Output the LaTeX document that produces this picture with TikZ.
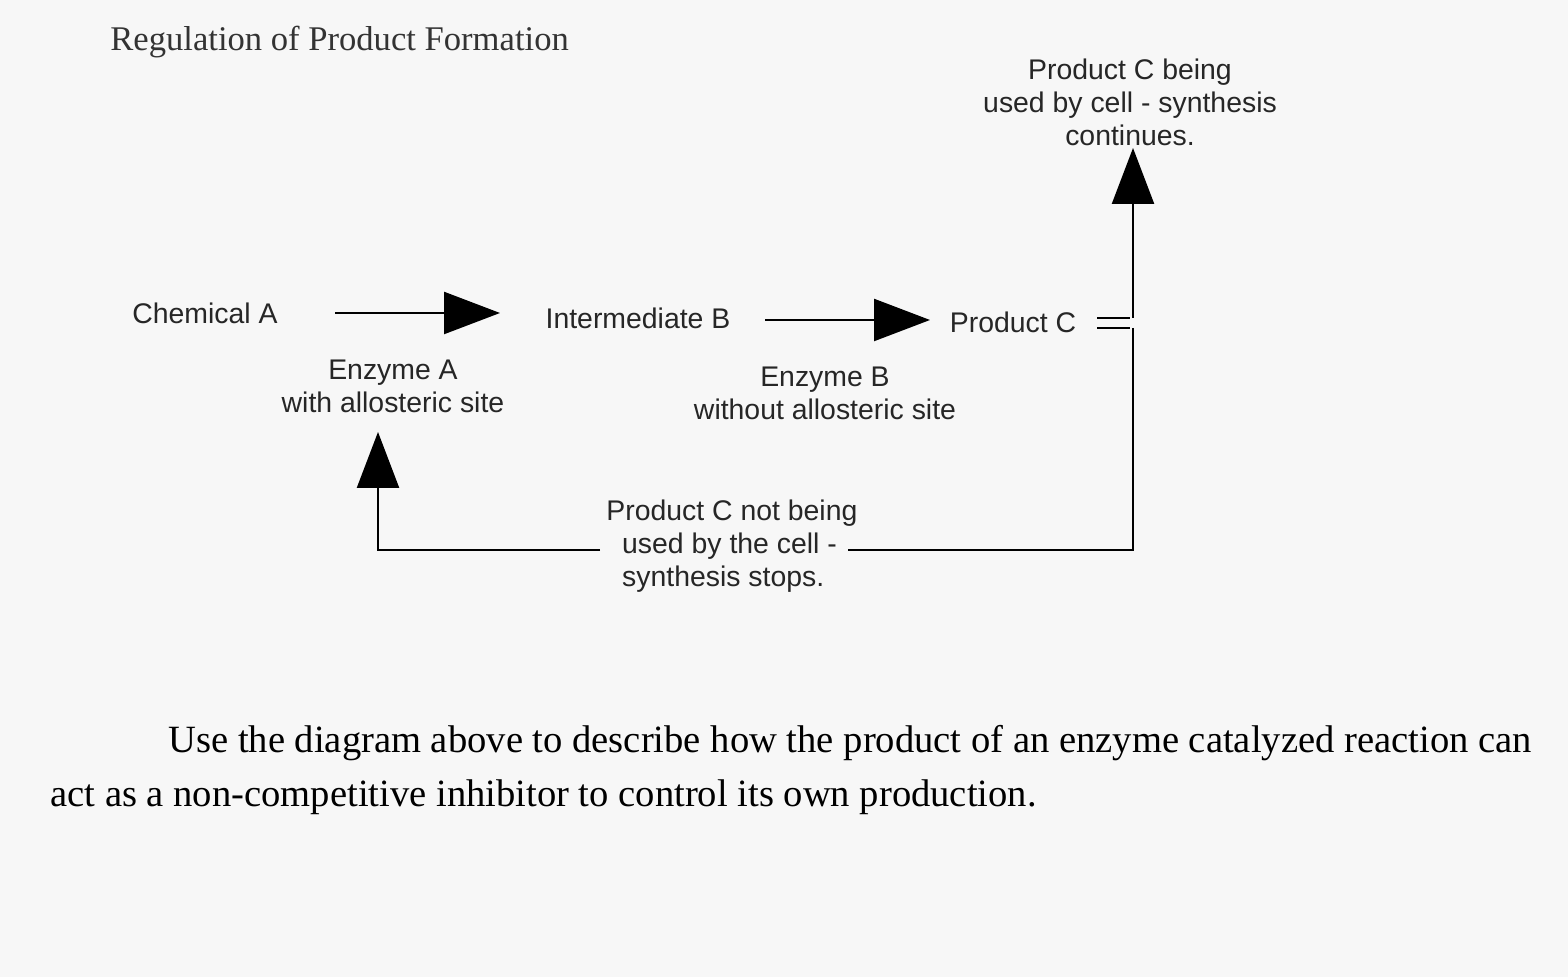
\documentclass[tikz,border=0pt]{standalone}
\usepackage{fontspec}
\setmainfont{Liberation Serif}
\newfontfamily\diag{Liberation Sans}
\usetikzlibrary{arrows.meta}
\begin{document}
\begin{tikzpicture}[x=0.5pt,y=-0.5pt,
  lbl/.style={font=\diag\fontsize{14.2}{16.5}\selectfont,text=black!85,inner sep=0pt},
  flow/.style={line width=1.2pt,-{Triangle[length=28pt,width=21pt]}},
  ln/.style={line width=1.2pt}]
\fill[gray!6] (0,0) rectangle (1568,977);
\useasboundingbox (0,0) rectangle (1568,977);
\node[anchor=west,font=\fontsize{17.3}{20}\selectfont,text=black!80,inner sep=0pt] (title) at (110,42) {Regulation of Product Formation};
\node[lbl] (ca) at (205,313) {Chemical A};
\node[lbl] (ib) at (638,318) {Intermediate B};
\node[lbl] (pc) at (1013,322) {Product C};
\node[lbl,align=center] (ea) at (393,386) {Enzyme A\\with allosteric site};
\node[lbl,align=center] (eb) at (825,393) {Enzyme B\\without allosteric site};
\node[lbl,align=center] (used) at (1130,102) {Product C being\\used by cell - synthesis\\continues.};
\node[lbl,align=left,anchor=west] (notused) at (606,546) {Product C not being\\\ \ used by the cell -\\\ \ synthesis stops.};
\coordinate (a1) at (335,313); \coordinate (a2) at (500,313);
\coordinate (b1) at (765,320); \coordinate (b2) at (930,320);
\draw[flow] (a1) -- (a2);
\draw[flow] (b1) -- (b2);
\coordinate (c1) at (1133,318); \coordinate (c2) at (1133,148);
\draw[flow] (c1) -- (c2);
\draw[ln] (1097,318) -- (1130,318);
\draw[ln] (1097,328) -- (1130,328);
\coordinate (d0) at (1133,328); \coordinate (d1) at (1133,550);
\coordinate (d2) at (848,550); \coordinate (d3) at (600,550);
\coordinate (d4) at (378,550); \coordinate (d5) at (378,432);
\draw[ln] (d0) -- (d1) -- (d2);
\draw[flow] (d3) -- (d4) -- (d5);
\node[anchor=west,inner sep=0pt,font=\fontsize{19.3}{27}\selectfont,align=left] (q) at (50,770)
{\hspace*{59pt}Use the diagram above to describe how the product of an enzyme catalyzed reaction can\\act as a non-competitive inhibitor to control its own production.};
\end{tikzpicture}
\end{document}
